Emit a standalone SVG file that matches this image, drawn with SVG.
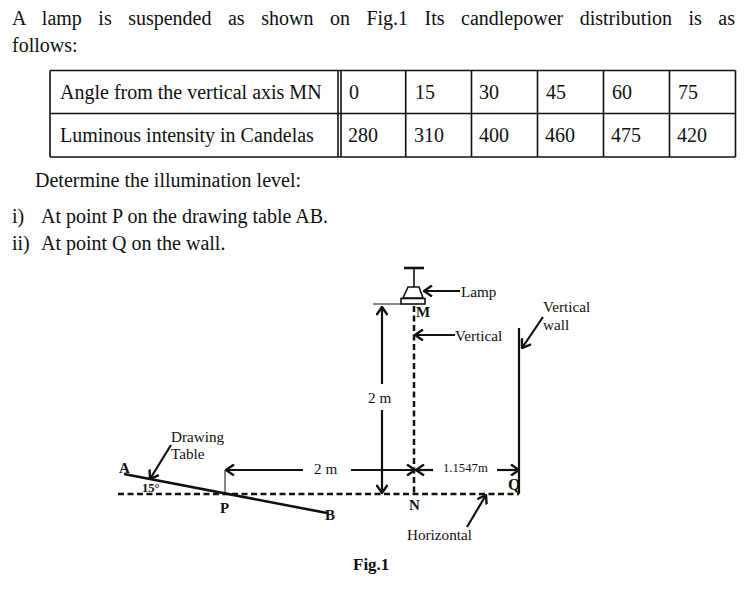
<svg xmlns="http://www.w3.org/2000/svg" width="751" height="589" viewBox="0 0 751 589">
<style>
text{font-family:"Liberation Serif","Times New Roman",serif;fill:#111}
.b{font-size:20px}
.t{font-size:20px}
.s{font-size:15.200px}
.m{font-size:15px}
.xs{font-size:12.700px}
.bd{font-weight:bold}
.g{stroke:#111;stroke-width:1.6;fill:none}
.th{stroke:#111;stroke-width:2.200;fill:none}
.a{stroke:#111;stroke-width:2.200;fill:none}
.d{stroke:#111;stroke-width:2.500;fill:none;stroke-dasharray:6 3.500}
</style>
<defs>
<marker id="ah" viewBox="0 0 12 12" refX="11" refY="6" markerWidth="12" markerHeight="12" markerUnits="userSpaceOnUse" orient="auto"><path d="M3 0.5L11 6L3 11.5" fill="none" stroke="#111" stroke-width="2.400"/></marker>
</defs>
<rect width="751" height="589" fill="#fff"/>
<g id="problem-text">
<text class="b" x="12" y="25" style="word-spacing:11.500px">A lamp is suspended as shown on Fig.1 Its candlepower distribution is as</text>
<text class="b" x="12" y="52">follows:</text>
<text class="b" x="35" y="186.500">Determine the illumination level:</text>
<text class="b" x="12" y="223">i)</text><text class="b" x="41" y="223">At point P on the drawing table AB.</text>
<text class="b" x="12" y="250">ii)</text><text class="b" x="41" y="250">At point Q on the wall.</text>
</g>
<g id="table">
<path class="g" d="M50 70.500H735.500M50 113.500H735.500M50 157H735.500M50 70.500V157M338 70.500V157M341 70.500V157M405.700 70.500V157M471.500 70.500V157M537.500 70.500V157M603.500 70.500V157M669.500 70.500V157M735.500 70.500V157"/>
<text class="t" x="60" y="99">Angle from the vertical axis MN</text>
<text class="t" x="349" y="99">0</text><text class="t" x="415" y="99">15</text><text class="t" x="479" y="99">30</text><text class="t" x="546" y="99">45</text><text class="t" x="612" y="99">60</text><text class="t" x="678" y="99">75</text>
<text class="t" x="60" y="142">Luminous intensity in Candelas</text>
<text class="t" x="348" y="142">280</text><text class="t" x="414" y="142">310</text><text class="t" x="479" y="142">400</text><text class="t" x="545" y="142">460</text><text class="t" x="611" y="142">475</text><text class="t" x="677" y="142">420</text>
</g>
<g id="lamp">
<path d="M404 268H424" stroke="#111" stroke-width="2.600" fill="none"/>
<path class="g" d="M414 268V287M408 287H419L423 298H403Z"/>
<rect class="g" x="401" y="298.500" width="24" height="5.500"/>
<path d="M373 304H401" stroke="#111" stroke-width="1" fill="none"/>
<text class="s" x="461" y="297">Lamp</text>
<text class="m bd" x="416" y="317">M</text>
</g>
<g id="drawing-table">
<path d="M124 474L327 513" stroke="#111" stroke-width="2.600" fill="none"/>
<path d="M225 470V494" stroke="#111" stroke-width="1" fill="none"/>
<text class="m bd" x="119" y="473">A</text>
<text class="m bd" x="325" y="520">B</text>
<text class="m bd" x="220" y="513">P</text>
<text class="s" x="171" y="442">Drawing</text>
<text class="s" x="171" y="459">Table</text>
</g>
<g id="wall">
<path class="th" d="M519 328V494"/>
<text class="s" x="543" y="312">Vertical</text>
<text class="s" x="543" y="330">wall</text>
<text class="bd" font-size="16" x="508" y="490">Q</text>
</g>
<g id="labels">
<text class="s" x="455" y="341">Vertical</text>
<text class="s" x="368" y="403">2 m</text>
<text class="s" x="314" y="474">2 m</text>
<text class="xs" x="443" y="472">1.1547m</text>
<text class="m bd" x="409" y="510">N</text>
<text class="s" x="407" y="540">Horizontal</text>
<text x="353" y="570" font-size="17" font-weight="bold">Fig.1</text>
</g>
<g id="connectors">
<path class="d" d="M414 306V494"/>
<path class="d" d="M118 494H519"/>
<path class="a" marker-end="url(#ah)" d="M460 291H424"/>
<path class="a" marker-end="url(#ah)" d="M455 335H415"/>
<path class="a" marker-end="url(#ah)" d="M543 317L522 348"/>
<path class="a" marker-end="url(#ah)" d="M382 384V307"/>
<path class="a" marker-end="url(#ah)" d="M382 410V493"/>
<path class="a" marker-end="url(#ah)" d="M303 470H226"/>
<path class="a" marker-end="url(#ah)" d="M351 470H415"/>
<path class="a" marker-end="url(#ah)" d="M433 470H416"/>
<path class="a" marker-end="url(#ah)" d="M497 470H519"/>
<path class="a" marker-end="url(#ah)" d="M171 445L150 479"/>
<path class="a" marker-end="url(#ah)" d="M467 527L486 495"/>
</g>
<text id="angle" font-size="12.500" font-weight="bold" x="142" y="492">15°</text>
</svg>
